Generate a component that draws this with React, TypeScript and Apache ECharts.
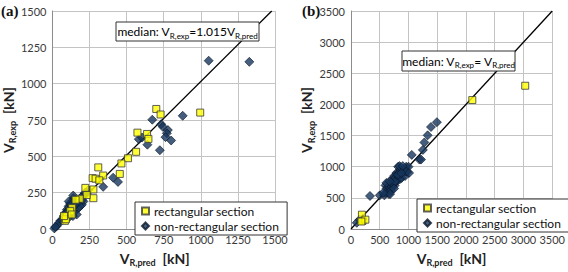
import React, { useEffect, useRef } from "react";
import * as echarts from "echarts";

const ticksA = [0, 250, 500, 750, 1000, 1250, 1500];
const ticksB = [0, 500, 1000, 1500, 2000, 2500, 3000, 3500];

const rectA: number[][] = [
  [700, 826], [729, 788], [996, 801], [573, 663], [638, 654], [647, 620], [564, 531],
  [509, 487], [465, 451], [454, 379], [309, 424], [342, 368], [271, 350], [291, 346],
  [316, 335], [276, 272], [276, 212], [231, 234], [222, 283], [184, 208], [156, 201],
  [133, 145], [120, 123], [98, 89], [84, 56], [91, 67], [78, 89], [130, 100],
];
const nonRectA: number[][] = [
  [1053, 1158], [1327, 1150], [878, 779], [673, 752], [733, 721], [744, 703], [778, 681],
  [771, 658], [762, 632], [800, 609], [724, 542], [640, 580], [582, 618], [604, 629],
  [342, 290], [409, 353], [442, 324],
  [242, 268], [231, 246], [209, 234], [198, 223], [187, 201], [176, 183], [209, 190],
  [198, 167], [142, 212], [131, 190], [120, 178], [109, 156], [98, 134], [131, 145],
  [153, 123], [120, 100], [87, 111], [76, 89], [53, 56], [31, 22], [13, 4], [42, 40],
  [142, 111], [176, 145], [164, 100], [109, 78], [138, 89], [187, 156], [120, 140],
  [100, 120], [150, 160], [110, 190], [125, 165], [140, 230], [220, 250], [200, 200],
  [160, 180], [90, 100], [65, 60], [20, 15],
];
const rectB: number[][] = [
  [3030, 2300], [2110, 2070], [190, 230], [200, 130], [250, 150], [180, 120],
];
const nonRectB: number[][] = [
  [600, 700], [620, 650], [640, 600], [650, 680], [660, 560], [680, 700], [690, 650],
  [700, 760], [710, 680], [720, 800], [730, 720], [740, 780], [750, 850], [760, 700],
  [770, 820], [780, 760], [790, 900], [800, 870], [810, 780], [820, 1000], [830, 850],
  [840, 920], [850, 800], [860, 950], [870, 880], [880, 820], [900, 900], [920, 960],
  [940, 850], [960, 1000], [980, 920], [1000, 1000], [1057, 1190], [1190, 1115],
  [1218, 1115], [1250, 1270], [1276, 1390], [1333, 1504], [1391, 1638], [1494, 1715],
  [330, 530], [500, 540], [580, 540], [600, 580], [700, 620], [680, 560], [760, 760],
  [845, 1010], [900, 1010], [960, 920], [1010, 900], [100, 100], [150, 150], [200, 160],
  [750, 650], [560, 580], [615, 740], [672, 767], [816, 871], [874, 897],
];
const fitLineA: number[][] = [[0, 0], [1478, 1500]];
const fitLineB: number[][] = [[0, 0], [3500, 3500]];

const FONT = "Lato";

const axisNameRich = {
  v: { fontSize: 14, fontWeight: "bold", fontFamily: FONT, color: "#222", lineHeight: 18 },
  s: { fontSize: 9, fontWeight: "bold", fontFamily: FONT, color: "#222", lineHeight: 10, verticalAlign: "bottom" },
};

function valueAxis(gridIndex: number, ticks: number[], name: string, isY: boolean, gap: number) {
  return {
    type: "value",
    gridIndex,
    min: ticks[0],
    max: ticks[ticks.length - 1],
    interval: ticks[1] - ticks[0],
    name,
    nameLocation: "middle",
    nameGap: gap,
    nameRotate: isY ? 90 : 0,
    nameTextStyle: { rich: axisNameRich, padding: isY ? 0 : gridIndex === 0 ? [0, 18, 0, 0] : 0 },
    axisLine: { show: true, lineStyle: { color: "#8c8c8c", width: 1 } },
    axisTick: { show: false },
    axisLabel: {
      color: "#3a3a3a",
      fontSize: 11,
      fontFamily: FONT,
      margin: isY ? 6 : 5,
      formatter: (v: number) => String(v),
    },
    splitLine: { show: true, lineStyle: { color: "#c4c4c4", width: 1 } },
  };
}

export default function App() {
  const ref = useRef<HTMLDivElement>(null);
  useEffect(() => {
    if (!ref.current) return;
    const chart = echarts.init(ref.current, null, { renderer: "svg" });
    const yellow = { color: "#FFFF00", borderColor: "#3a3a3a", borderWidth: 1 };
    const navy = { color: "#17365D", borderColor: "#0a1628", borderWidth: 0.8 };
    const legendBase = {
      orient: "vertical",
      backgroundColor: "#fff",
      borderColor: "#333",
      borderWidth: 1,
      borderRadius: 0,
      padding: [3, 8, 3, 6],
      itemGap: 3,
      itemWidth: 7,
      itemHeight: 7,
      textStyle: { fontSize: 12, fontFamily: FONT, color: "#111" },
      data: [
        { name: "rectangular section", icon: "rect" },
        { name: "non-rectangular section", icon: "diamond" },
      ],
    };
    const medianRich = {
      n: { fontSize: 12, fontFamily: FONT, color: "#111", lineHeight: 16 },
      s: { fontSize: 8, fontFamily: FONT, color: "#111", lineHeight: 9, verticalAlign: "bottom" },
    };
    chart.setOption({
      animation: false,
      grid: [
        { left: 50, top: 11, width: 225, height: 224 },
        { left: 351, top: 11, width: 203, height: 225 },
      ],
      xAxis: [
        valueAxis(0, ticksA, "{v|V}{s|R,pred}{v|  [kN]}", false, 20),
        valueAxis(1, ticksB, "{v|V}{s|R,pred}{v|  [kN]}", false, 20),
      ],
      yAxis: [
        valueAxis(0, ticksA, "{v|V}{s|R,exp}{v|  [kN]}", true, 30),
        valueAxis(1, ticksB, "{v|V}{s|R,exp}{v|  [kN]}", true, 30),
      ],
      legend: [
        { ...legendBase, left: 135, top: 202 },
        { ...legendBase, left: 417, top: 199 },
      ],
      series: [
        { type: "line", xAxisIndex: 0, yAxisIndex: 0, data: fitLineA, symbol: "none", lineStyle: { color: "#000", width: 1.3 }, silent: true, z: 1 },
        { type: "line", xAxisIndex: 1, yAxisIndex: 1, data: fitLineB, symbol: "none", lineStyle: { color: "#000", width: 1.3 }, silent: true, z: 1 },
        { name: "non-rectangular section", type: "scatter", xAxisIndex: 0, yAxisIndex: 0, data: nonRectA, symbol: "diamond", symbolSize: 9, itemStyle: navy, z: 2 },
        { name: "rectangular section", type: "scatter", xAxisIndex: 0, yAxisIndex: 0, data: rectA, symbol: "rect", symbolSize: 7, itemStyle: yellow, z: 3 },
        { name: "non-rectangular section", type: "scatter", xAxisIndex: 1, yAxisIndex: 1, data: nonRectB, symbol: "diamond", symbolSize: 9, itemStyle: navy, z: 2 },
        { name: "rectangular section", type: "scatter", xAxisIndex: 1, yAxisIndex: 1, data: rectB, symbol: "rect", symbolSize: 7, itemStyle: yellow, z: 3 },
      ],
      graphic: [
        { type: "rect", shape: { x: 116, y: 22, width: 143, height: 19 }, style: { fill: "#fff", stroke: "#333", lineWidth: 1 }, z: 10 },
        { type: "text", x: 187.5, y: 31.5, z: 11, style: { text: "{n|median: V}{s|R,exp}{n|=1.015V}{s|R,pred}", rich: medianRich, align: "center", verticalAlign: "middle" } },
        { type: "rect", shape: { x: 402, y: 51, width: 113, height: 20 }, style: { fill: "#fff", stroke: "#333", lineWidth: 1 }, z: 10 },
        { type: "text", x: 458.5, y: 61, z: 11, style: { text: "{n|median: V}{s|R,exp}{n|= V}{s|R,pred}", rich: medianRich, align: "center", verticalAlign: "middle" } },
        { type: "text", x: 1, y: 3, z: 11, style: { text: "(a)", font: "bold 15px 'Liberation Serif'", fill: "#111" } },
        { type: "text", x: 302, y: 3, z: 11, style: { text: "(b)", font: "bold 15px 'Liberation Serif'", fill: "#111" } },
      ],
    });
    return () => chart.dispose();
  }, []);
  return <div ref={ref} style={{ position: "fixed", left: 0, top: 0, width: 568, height: 272, background: "#fff" }} />;
}
